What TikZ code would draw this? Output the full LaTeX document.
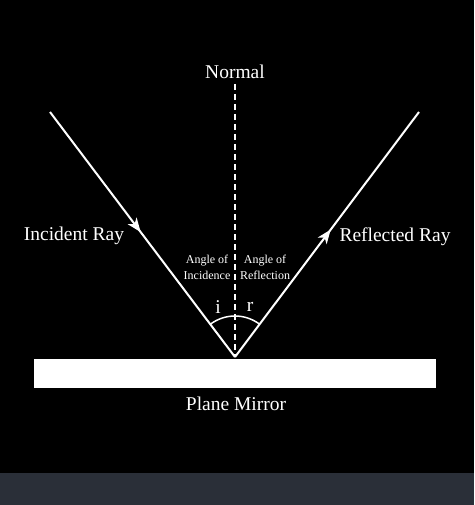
\documentclass[tikz,border=0pt]{standalone}
\usepackage{xcolor}
\usepackage{fontspec}
\setmainfont{Liberation Serif}
\usepackage{tikz}
\usetikzlibrary{arrows.meta,positioning,decorations.markings}

\definecolor{barcol}{RGB}{42,47,56}

\begin{document}
\begin{tikzpicture}[
    x=1pt, y=-1pt,
    ray/.style={draw=white, line width=2pt, postaction={decorate},
        decoration={markings, mark=at position #1 with {\arrow{Stealth[length=14pt,width=11pt,inset=4pt]}}}},
    normalline/.style={draw=white, line width=1.3pt, dash pattern=on 6pt off 4pt},
    biglabel/.style={text=white, font=\fontsize{19.5}{21}\selectfont, inner sep=0pt},
    smalllabel/.style={text=white, font=\fontsize{12}{16}\selectfont, align=center, inner sep=0pt}
]

% background
\fill[black] (0,0) rectangle (474,505);
\fill[barcol] (0,473) rectangle (474,505);

\coordinate (src) at (50,112);
\coordinate (hit) at (235,357);
\coordinate (dst) at (419,112);
\coordinate (ntop) at (235,84);

% mirror
\node[fill=white, minimum width=402pt, minimum height=29pt, inner sep=0pt] (mirror) at (235,373.5) {};
\node[biglabel] (mirrorlbl) at (236,404) {Plane Mirror};

% normal
\draw[normalline] (ntop) -- (hit);
\node[biglabel] (normallbl) at (235,72) {Normal};

% rays
\draw[ray=0.49] (src) -- (hit);
\draw[ray=0.52] (hit) -- (dst);
\node[biglabel] (inclbl) at (74,236) {Incident Ray};
\node[biglabel] (reflbl) at (395,237) {Reflected Ray};

% angles
\draw[white, line width=1.5pt] (hit) ++(-127:41) arc[start angle=-127, end angle=-53, radius=41];
\node[smalllabel] (anginc) at (207,267) {Angle of\\Incidence};
\node[smalllabel] (angref) at (265,267) {Angle of\\Reflection};
\node[biglabel] (ilbl) at (218,307) {i};
\node[biglabel] (rlbl) at (250,307) {r};

\end{tikzpicture}
\end{document}
